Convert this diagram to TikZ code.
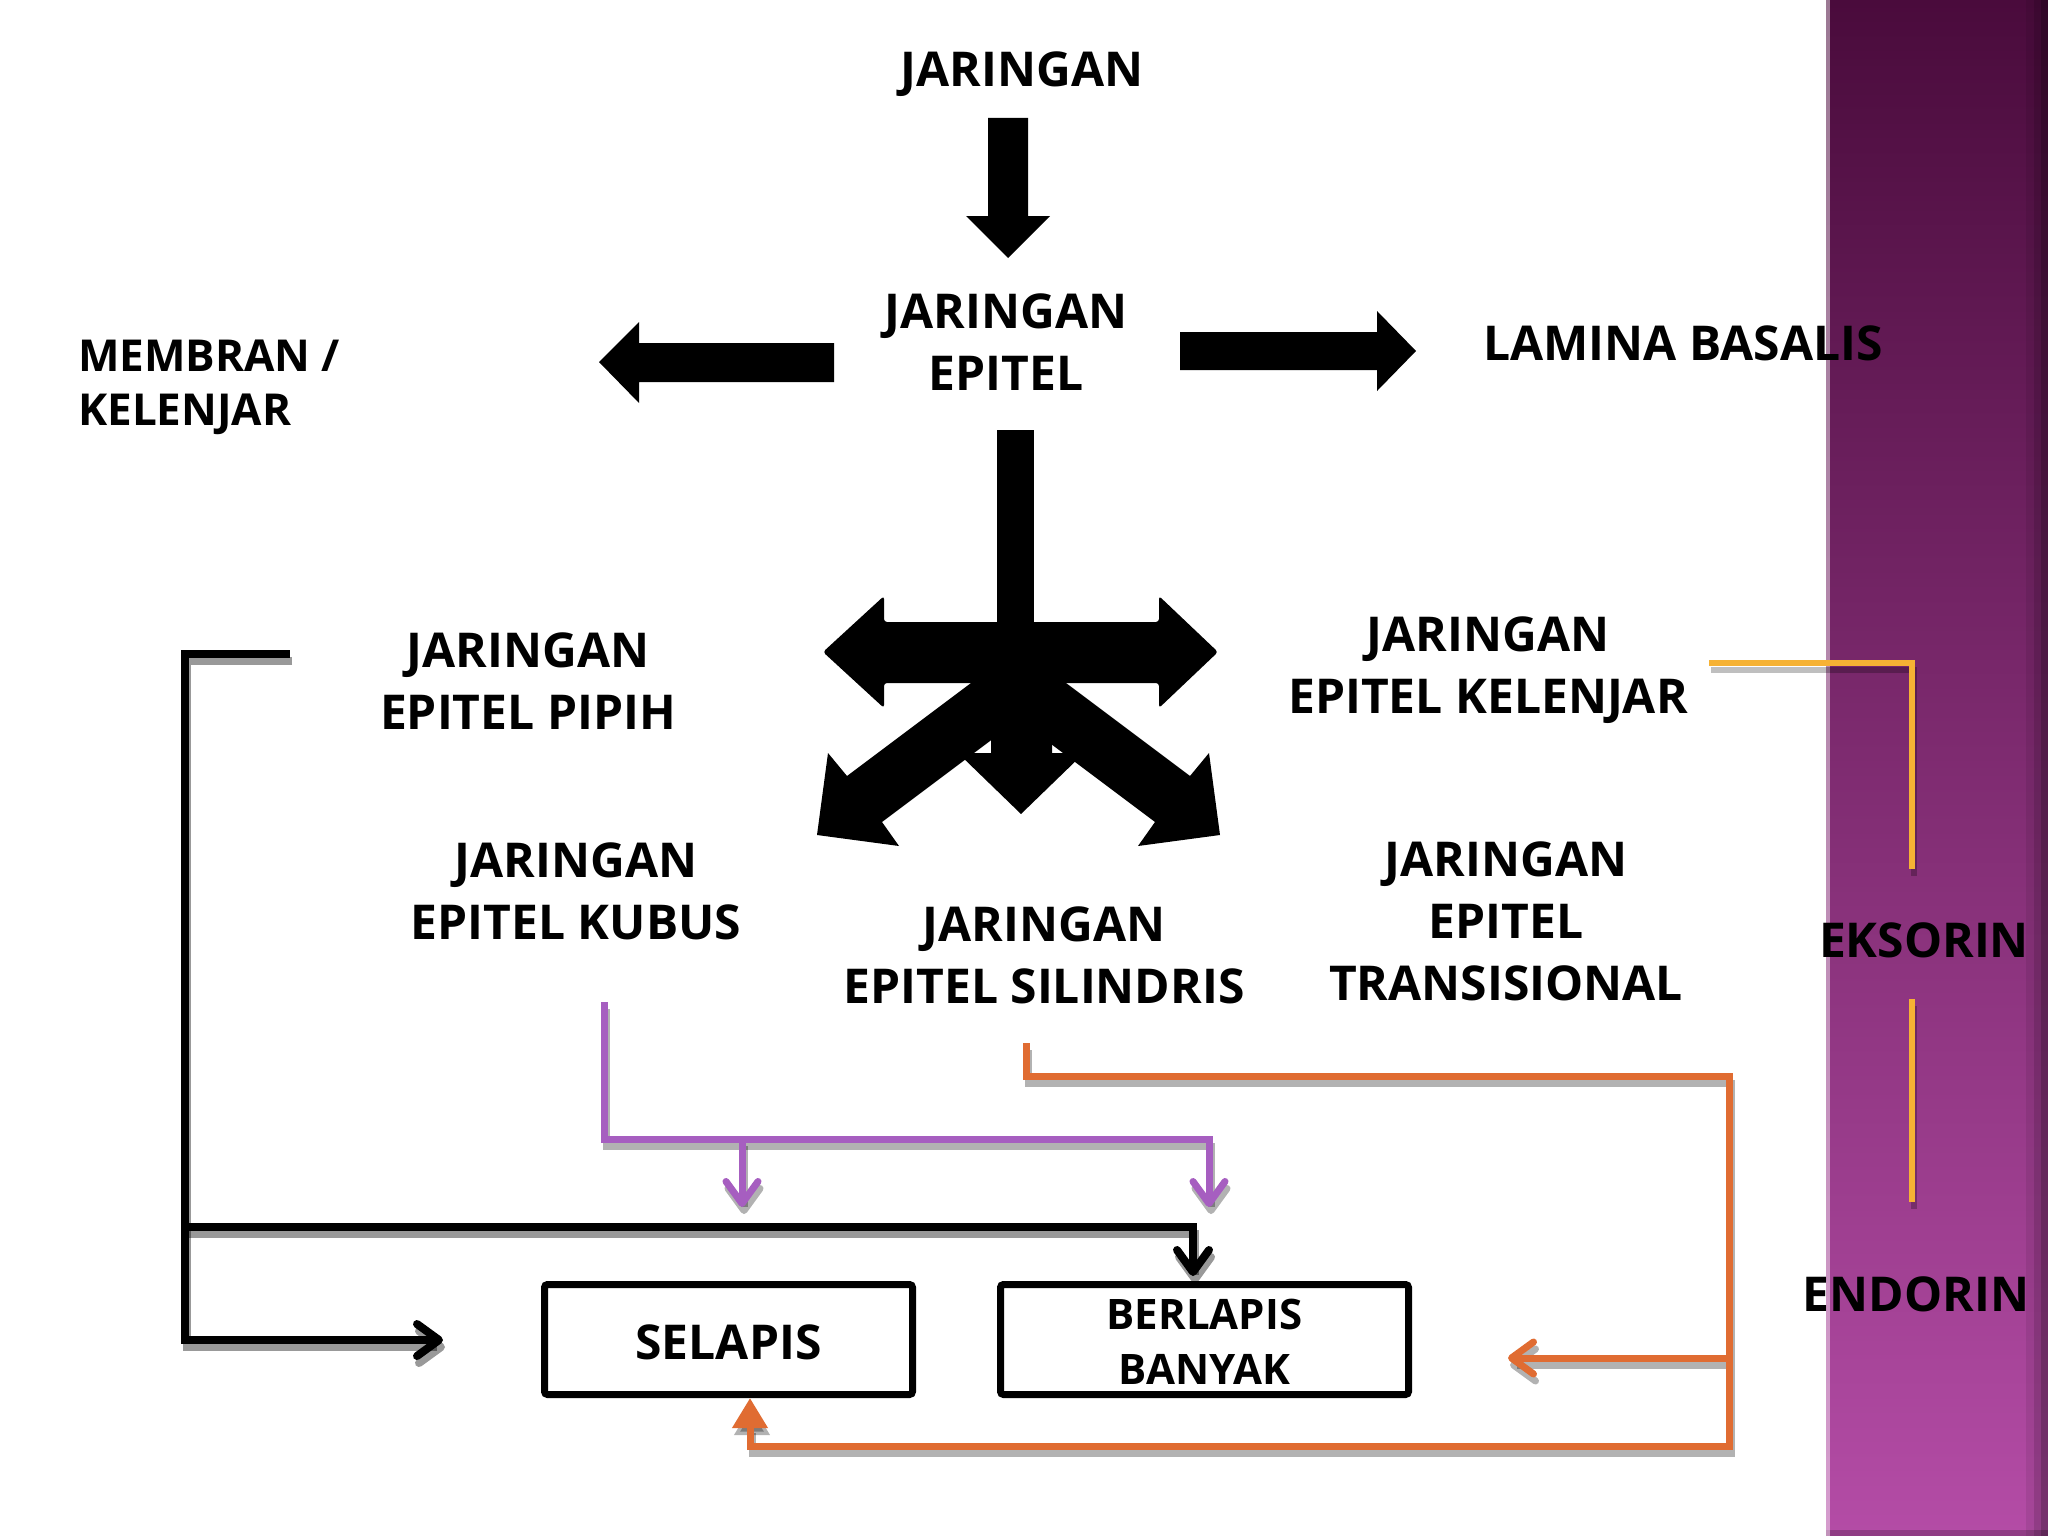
\documentclass[tikz,border=0pt]{standalone}
\usepackage{fontspec}
\setmainfont{Open Sans}
\usetikzlibrary{arrows.meta,calc}
\definecolor{bandtop}{RGB}{74,11,60}
\definecolor{bandmid}{RGB}{125,45,112}
\definecolor{bandbot}{RGB}{180,76,166}
\definecolor{purp}{RGB}{166,94,192}
\definecolor{oran}{RGB}{224,108,50}
\definecolor{yell}{RGB}{246,178,52}
\tikzset{
  lbl/.style={font=\fontsize{48}{62}\selectfont\bfseries, align=center, inner sep=0pt, text=black},
  smalllbl/.style={font=\fontsize{44}{54}\selectfont\bfseries, inner sep=0pt, text=black},
  boxst/.style={draw=black, line width=7pt, rounded corners=3pt, fill=white, inner sep=0pt},
  bigarrow/.style={fill=black, draw=none},
  blk/.style={draw=black, line width=8pt},
  prp/.style={draw=purp, line width=7pt},
  org/.style={draw=oran, line width=7pt},
  ylw/.style={draw=yell, line width=6.5pt},
  shd/.style={draw=black, opacity=0.4},
  barb/.style={-{Straight Barb[length=22pt,width=32pt,round]}},
  tri/.style={-{Triangle[length=30pt,width=34pt]}},
}
\newcommand\blkpaths[1]{%
  \draw[blk, barb, #1] (pipihL) -- (185,654) -- (185,1340) -- (blkEnd);
  \draw[blk, barb, #1] (185,1227) -- (1193,1227) -- (1193,1276);}
\newcommand\prppaths[1]{%
  \draw[prp, barb, #1] (kubusS) -- (604,1139) -- (1209,1139) -- (1209,1207);
  \draw[prp, barb, #1] (742,1139) -- (742,1207);}
\newcommand\orgpaths[1]{%
  \draw[org, tri, #1] (silS) -- (1026,1076) -- (1729,1076) -- (1729,1446) -- (750,1446) -- (750,0 |- selapis.south);
  \draw[org, barb, #1] (1729,1358) -- (orBr);}
\newcommand\ylwpaths[1]{%
  \draw[ylw, #1] (kelR) -- (1912,663) -- (eksN);
  \draw[ylw, #1] (eksS) -- (endN);}
\begin{document}
\begin{tikzpicture}[x=1pt,y=-1pt]
\useasboundingbox (0,0) rectangle (2048,1536);
\fill[white] (0,0) rectangle (2048,1536);
% side band
\shade[top color=bandtop, middle color=bandmid, bottom color=bandbot] (1826,0) rectangle (2048,1536);
\fill[black, opacity=0.08] (2026,0) rectangle (2048,1536);
\fill[black, opacity=0.12] (2034,0) rectangle (2048,1536);
\fill[black, opacity=0.18] (2041,0) rectangle (2048,1536);
\fill[black, opacity=0.2] (1826,1530) rectangle (2048,1536);
\fill[white, opacity=0.45] (1826,0) rectangle (1830,1536);

% big black arrows
\fill[bigarrow] (988,118) -- (1028,118) -- (1028,216) -- (1050,216) -- (1008,258) -- (966,216) -- (988,216) -- cycle;
\fill[bigarrow] (834,343) -- (639,343) -- (639,322) -- (599,362) -- (639,403) -- (639,382) -- (834,382) -- cycle;
\fill[bigarrow] (1180,332) -- (1377,332) -- (1377,311) -- (1416,351) -- (1377,391) -- (1377,370) -- (1180,370) -- cycle;
% star of arrows
\fill[bigarrow] (997,430) rectangle (1034,640);
\fill[bigarrow] (991,622) -- (1052,622) -- (1052,753) -- (1084,753) -- (1021,814) -- (958,753) -- (991,753) -- cycle;
\fill[bigarrow] (1007,656) -- (847,776) -- (828,753) -- (817,835) -- (899,846) -- (882,822) -- (1042,702) -- cycle;
\fill[bigarrow] (1030,656) -- (1190,776) -- (1209,753) -- (1220,835) -- (1138,846) -- (1155,822) -- (995,702) -- cycle;
\fill[bigarrow, rounded corners=3pt] (884,622) -- (884,596) -- (823,652) -- (884,708) -- (884,683) -- (1159,683) -- (1159,708) -- (1218,652) -- (1159,596) -- (1159,622) -- cycle;

% labels
\node[lbl] (top) at (1022,74) {JARINGAN};
\node[lbl] (epitel) at (1006,342) {JARINGAN\\EPITEL};
\node[smalllbl, anchor=west, align=left] (membran) at (78,387) {MEMBRAN /\\KELENJAR};
\node[lbl] (lamina) at (1683,343) {LAMINA BASALIS};
\node[lbl] (pipih) at (528,681) {JARINGAN\\EPITEL PIPIH};
\node[lbl] (kelenjar) at (1488,670) {JARINGAN\\EPITEL KELENJAR};
\node[lbl] (kubus) at (576,891) {JARINGAN\\EPITEL KUBUS};
\node[lbl] (silindris) at (1044,955) {JARINGAN\\EPITEL SILINDRIS};
\node[lbl] (trans) at (1506,921) {JARINGAN\\EPITEL\\TRANSISIONAL};
\node[lbl] (eksorin) at (1924,940) {EKSORIN};
\node[lbl] (endorin) at (1916,1294) {ENDORIN};
\node[boxst, minimum width=368pt, minimum height=110pt] (selapis) at (728.5,1339.5) {};
\node[lbl] (selapisT) at ($(selapis.center)+(0,2.5)$) {SELAPIS};
\node[boxst, minimum width=408pt, minimum height=110pt] (berlapis) at (1204.5,1339.5) {};
\node[lbl, font=\fontsize{42}{55}\selectfont\bfseries] (berlapisT) at ($(berlapis.center)+(0,2.5)$) {BERLAPIS\\BANYAK};

% connectors
\coordinate (pipihL) at (290,654);
\coordinate (blkEnd) at (443,1340);
\coordinate (kubusS) at (604,1002);
\coordinate (silS) at (1026,1043);
\coordinate (kelR) at (1709,663);
\coordinate (eksN) at (1912,869);
\coordinate (eksS) at (1912,999);
\coordinate (endN) at (1912,1202);
\coordinate (orBr) at (1508,1358);

\begin{scope}[transform canvas={shift={(2pt,-7pt)}}]
  \blkpaths{shd}
  \prppaths{shd, opacity=0.3}
  \orgpaths{shd, opacity=0.3}
  \ylwpaths{shd, opacity=0.25}
\end{scope}
\blkpaths{}
\prppaths{}
\orgpaths{}
\ylwpaths{}
\end{tikzpicture}
\end{document}
